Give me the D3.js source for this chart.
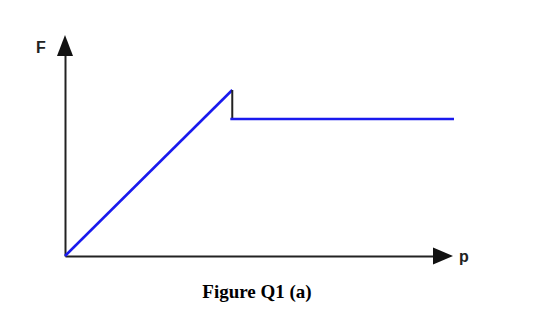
<!DOCTYPE html>
<html>
<head>
<meta charset="utf-8">
<script src="https://cdn.jsdelivr.net/npm/d3@7"></script>
<style>
  body { margin: 0; background: #fff; }
</style>
</head>
<body>
<svg id="canvas"></svg>
<script>
const width = 547;
const height = 332;

// normalised P and F values of the curve
const rise = { p: [0, 0.43], f: [0, 0.751] };
const drop = { p: [0.43, 0.43], f: [0.751, 0.62] };
const plateau = { p: [0.425, 1.0], f: [0.62, 0.62] };
const axisLabels = ["F", "p"];
const caption = "Figure Q1 (a)";

const svg = d3.select("#canvas").attr("width", width).attr("height", height);

const xScale = d3.scaleLinear().domain([0, 1]).range([65, 454]);
const yScale = d3.scaleLinear().domain([0, 1]).range([256, 35]);

const toPoints = (s) => s.p.map((p, i) => [p, s.f[i]]);
const line = d3
  .line()
  .x((d) => xScale(d[0]))
  .y((d) => yScale(d[1]));

// axes without ticks, just the lines
svg
  .append("g")
  .attr("transform", `translate(0, ${yScale(0)})`)
  .call(d3.axisBottom(xScale.copy().domain([0, 0.95]).range([65, 436])).tickValues([]).tickSizeOuter(0))
  .call((g) => g.select(".domain").attr("stroke", "#222").attr("stroke-width", 2));

svg
  .append("g")
  .attr("transform", `translate(${xScale(0)}, 0)`)
  .call(d3.axisLeft(yScale.copy().domain([0, 0.9]).range([256, 54])).tickValues([]).tickSizeOuter(0))
  .call((g) => g.select(".domain").attr("stroke", "#222").attr("stroke-width", 2));

// arrow heads
const tipX = xScale(0.9975);
const tipY = yScale(1);
svg
  .append("path")
  .attr("d", `M${tipX},${yScale(0)} L${tipX - 20},${yScale(0) - 8.5} L${tipX - 20},${yScale(0) + 8.5} Z`)
  .attr("fill", "#111");
svg
  .append("path")
  .attr("d", `M${xScale(0)},${tipY} L${xScale(0) - 8},${tipY + 21} L${xScale(0) + 8},${tipY + 21} Z`)
  .attr("fill", "#111");

// curve
svg
  .append("path")
  .attr("d", line(toPoints(rise)))
  .attr("fill", "none")
  .attr("stroke", "#1a1aee")
  .attr("stroke-width", 2.6);

svg
  .append("path")
  .attr("d", line(toPoints(drop)))
  .attr("fill", "none")
  .attr("stroke", "#222")
  .attr("stroke-width", 2);

svg
  .append("path")
  .attr("d", line(toPoints(plateau)))
  .attr("fill", "none")
  .attr("stroke", "#1a1aee")
  .attr("stroke-width", 2.6);

// labels
svg
  .append("text")
  .attr("x", 36)
  .attr("y", 53)
  .text(axisLabels[0])
  .style("font-family", "Liberation Sans, Arial, sans-serif")
  .style("font-weight", "bold")
  .style("font-size", "16px")
  .style("fill", "#222");

svg
  .append("text")
  .attr("x", 459)
  .attr("y", 262)
  .text(axisLabels[1])
  .style("font-family", "Liberation Sans, Arial, sans-serif")
  .style("font-weight", "bold")
  .style("font-size", "16px")
  .style("fill", "#222");

svg
  .append("text")
  .attr("x", 257)
  .attr("y", 298)
  .attr("text-anchor", "middle")
  .text(caption)
  .style("font-family", "Liberation Serif, Times New Roman, serif")
  .style("font-weight", "bold")
  .style("font-size", "19px")
  .style("fill", "#000");
</script>
</body>
</html>
